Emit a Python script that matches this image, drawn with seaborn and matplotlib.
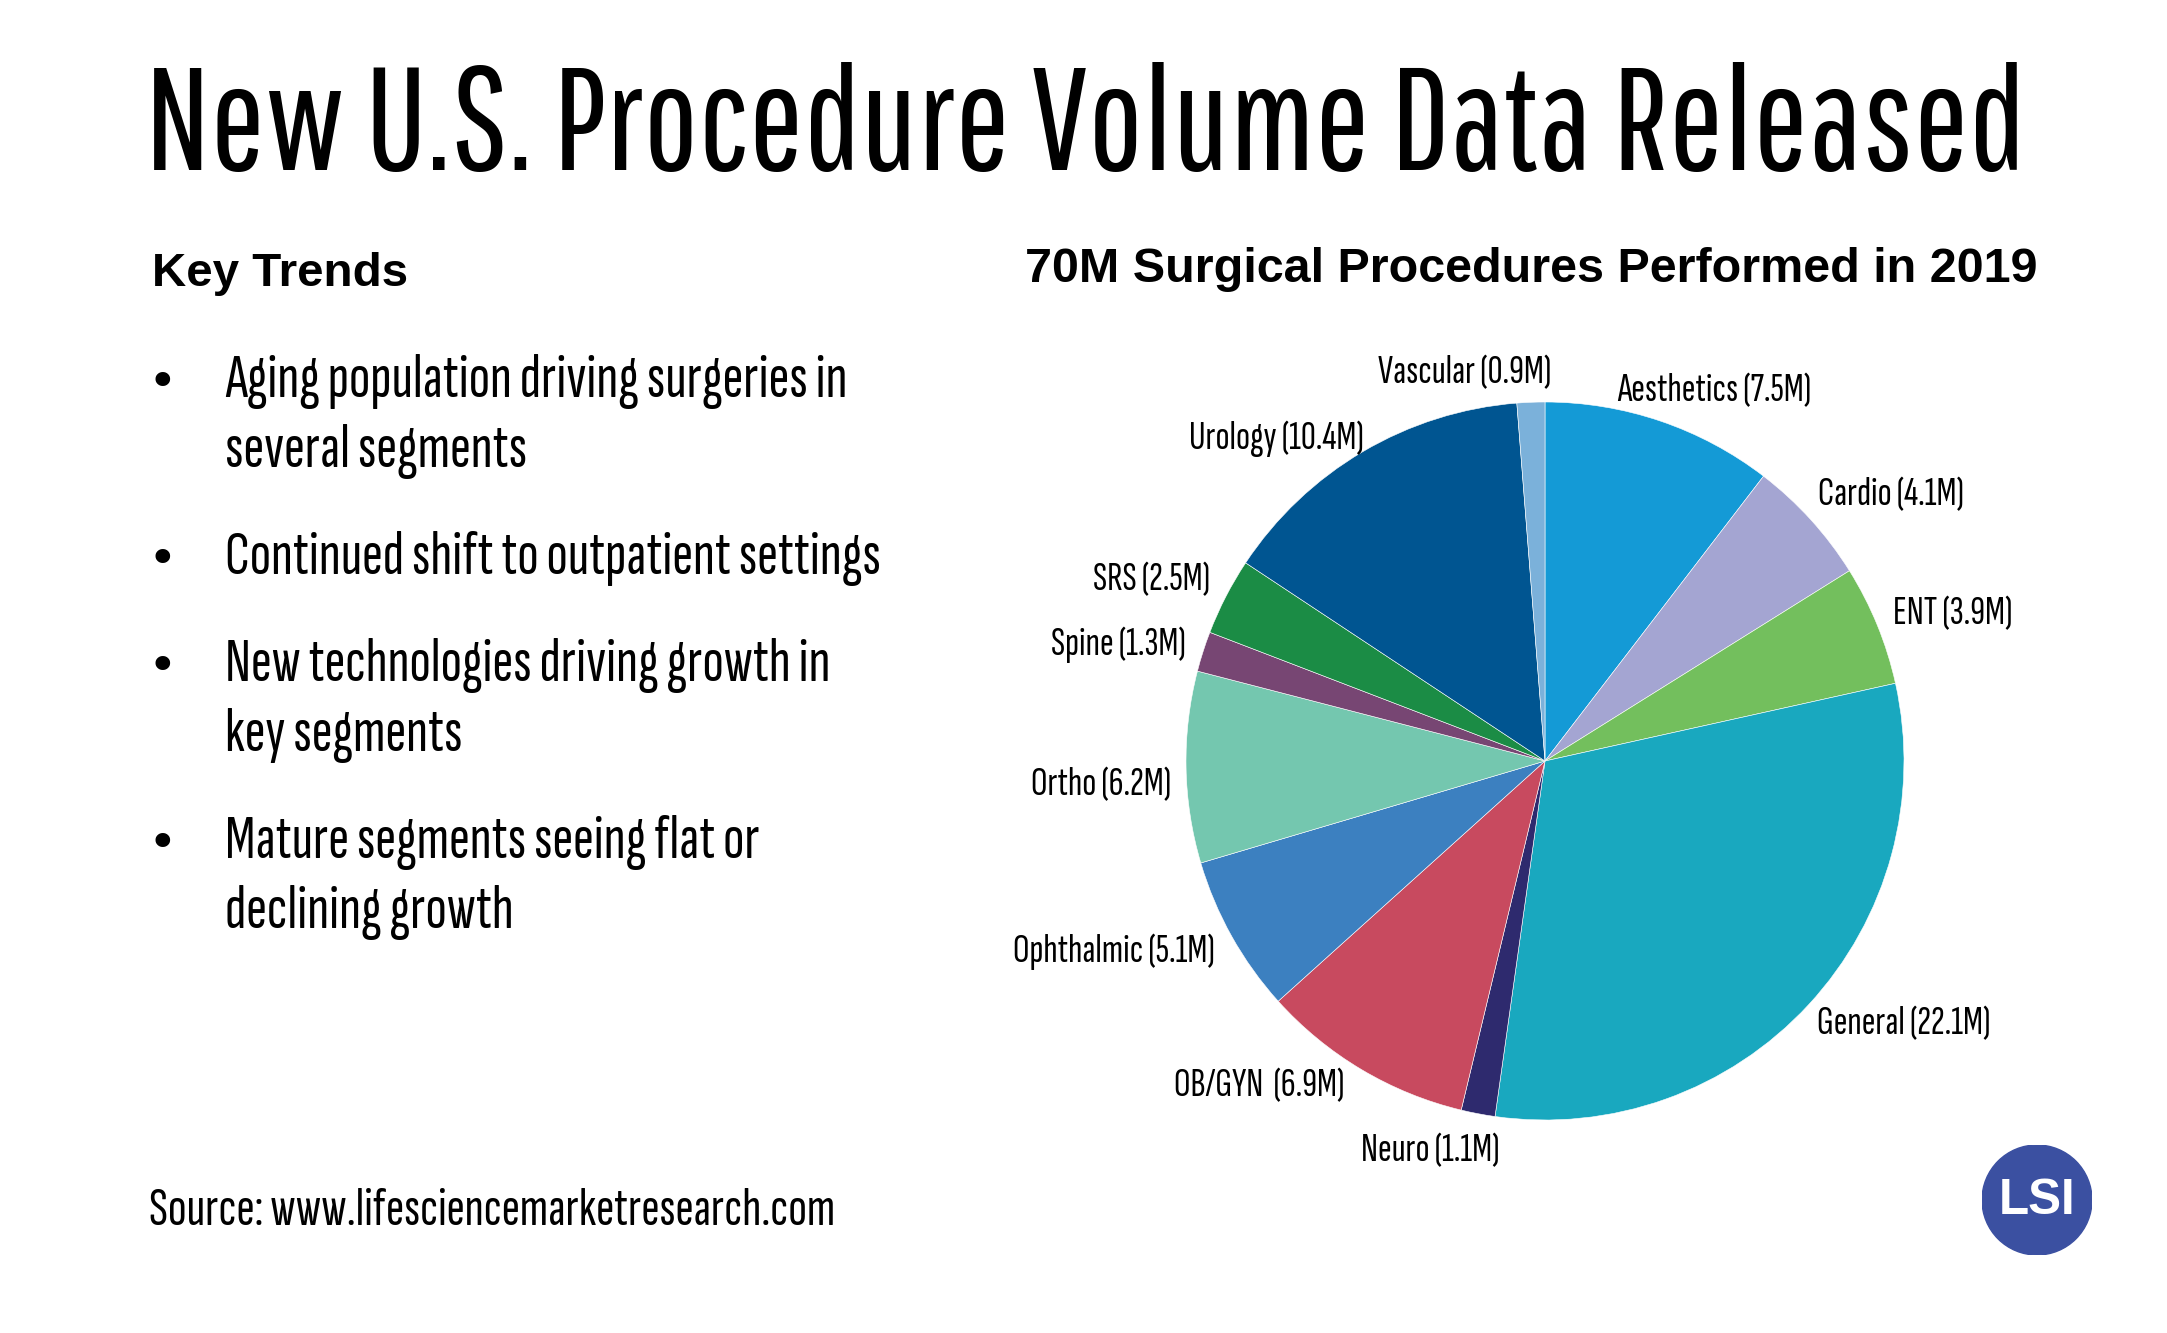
import matplotlib
matplotlib.use('Agg')
import matplotlib.pyplot as plt
import seaborn as sns

segments = ['Aesthetics', 'Cardio', 'ENT', 'General', 'Neuro', 'OB/GYN ',
            'Ophthalmic', 'Ortho', 'Spine', 'SRS', 'Urology', 'Vascular']
volumes = [7.5, 4.1, 3.9, 22.1, 1.1, 6.9, 5.1, 6.2, 1.3, 2.5, 10.4, 0.9]
colors = ['#149AD6', '#A4A5D2', '#73BF5D', '#19A8BF', '#2E2A6E', '#C84A5F',
          '#3C80C0', '#74C7AF', '#774673', '#1B8C45', '#005591', '#7BB1DA']
trends = [['Aging population driving surgeries in', 'several segments'],
          ['Continued shift to outpatient settings'],
          ['New technologies driving growth in', 'key segments'],
          ['Mature segments seeing flat or', 'declining growth']]

sns.set_theme(style='white')
TITLE = ['Pathway Gothic One', 'League Gothic', 'DejaVu Sans']
BODY = ['Sofia Sans Extra Condensed', 'Fira Sans Extra Condensed', 'DejaVu Sans']
BOLD = ['Liberation Sans', 'DejaVu Sans']
plt.rcParams['font.family'] = BODY
plt.rcParams['text.color'] = 'black'

W, H = 2167, 1333
fig = plt.figure(figsize=(W / 100, H / 100), dpi=100)
renderer = fig.canvas.get_renderer()


def px(x, y):
    return x / W, 1 - y / H


def fit(t, width):
    # scale the font so the text spans the given width in pixels
    w = t.get_window_extent(renderer).width
    t.set_fontsize(t.get_fontsize() * width / w)
    return t.get_fontsize()


t = fig.text(*px(1085, 170), 'New U.S. Procedure Volume Data Released', ha='center',
             va='baseline', fontsize=100, family=TITLE)
fit(t, 1880)
t = fig.text(*px(152, 286), 'Key Trends', ha='left', va='baseline', fontsize=30,
             fontweight='bold', family=BOLD)
fit(t, 256)
t = fig.text(*px(1531, 282), '70M Surgical Procedures Performed in 2019', ha='center',
             va='baseline', fontsize=30, fontweight='bold', family=BOLD)
fit(t, 1013)

probe = fig.text(0, 0, trends[1][0], fontsize=38)
body_size = fit(probe, 655)
probe.remove()

first_baselines = [397, 574, 681, 858]
for y0, lines in zip(first_baselines, trends):
    fig.text(*px(162, y0), '\u2022', ha='center', va='baseline', fontsize=body_size * 0.8,
             family=['DejaVu Sans'])
    for i, line in enumerate(lines):
        fig.text(*px(225, y0 + i * 70), line, ha='left', va='baseline', fontsize=body_size)

t = fig.text(*px(149, 1225), 'Source: www.lifesciencemarketresearch.com', ha='left',
             va='baseline', fontsize=body_size)
fit(t, 687)

# pie
cx, cy, r = 1545, 761, 359
half = r * 1.5
ax = fig.add_axes([(cx - half) / W, (H - cy - half) / H, 2 * half / W, 2 * half / H])
labels = [f'{s} ({v}M)' for s, v in zip(segments, volumes)]
wedges, texts = ax.pie(volumes, colors=sns.color_palette(colors), startangle=90,
                       counterclock=False, labels=labels,
                       wedgeprops=dict(linewidth=0.4, edgecolor='white'),
                       textprops=dict(fontsize=24, color='black'))
label_size = fit(texts[6], 202)
label_pos = [(0.471, 1.031), (0.964, 0.741), (1.136, 0.409), (1.0, -0.733),
             (-0.320, -1.086), (-0.797, -0.905), (-1.201, -0.532), (-1.237, -0.067),
             (-1.187, 0.323), (-1.097, 0.504), (-0.749, 0.897), (-0.223, 1.081)]
for t, p in zip(texts, label_pos):
    t.set_position(p)
    t.set_ha('center')
    t.set_va('center')
    t.set_fontsize(label_size)
ax.set_xlim(-1.5, 1.5)
ax.set_ylim(-1.5, 1.5)
ax.set_aspect('equal')

# logo
lr = 55
lax = fig.add_axes([(2037 - lr) / W, (H - 1200 - lr) / H, 2 * lr / W, 2 * lr / H])
lax.add_patch(plt.Circle((0, 0), 1, color='#3B50A1'))
t = lax.text(0, -0.02, 'LSI', ha='center', va='center', color='white', fontsize=40,
             fontweight='bold', family=BOLD)
fit(t, 77)
lax.set_xlim(-1, 1)
lax.set_ylim(-1, 1)
lax.axis('off')

fig.savefig('out.png', dpi=100, facecolor='white')
